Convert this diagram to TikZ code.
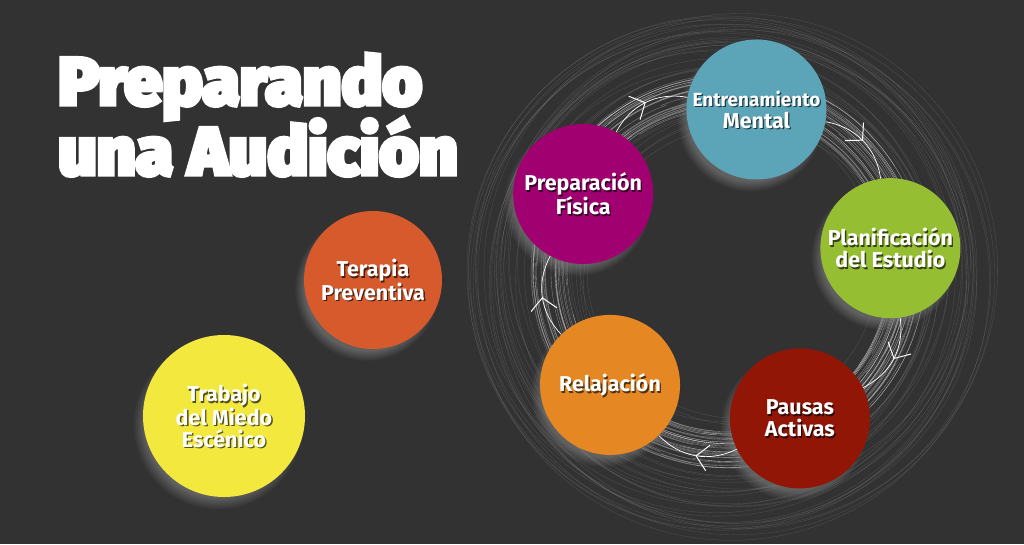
\documentclass[tikz,border=0pt]{standalone}
\usepackage{fontspec}
\setmainfont{Fira Sans}
\newfontfamily\titlefont{Fira Sans Black}[FakeBold=5]
\usetikzlibrary{calc,shadows,arrows.meta,decorations.markings}

\definecolor{bg}{RGB}{50,50,50}
\definecolor{cMental}{RGB}{92,165,184}
\definecolor{cPrep}{RGB}{160,0,112}
\definecolor{cPlan}{RGB}{150,190,50}
\definecolor{cPausas}{RGB}{145,22,6}
\definecolor{cRelaj}{RGB}{229,136,36}
\definecolor{cTerapia}{RGB}{214,90,44}
\definecolor{cTrabajo}{RGB}{242,232,62}

% text with a small dark shadow behind it
\newcommand\bubbletext[2]{%
  \node[txtshade] at (#1) {#2};
  \node[txt] at (#1) {#2};}

\begin{document}
\begin{tikzpicture}
  [x=1pt,y=1pt,
  bubble/.style={circle,minimum size=140pt,inner sep=0pt,
    circular drop shadow={shadow xshift=-6pt,shadow yshift=-8pt,shadow scale=1.05,opacity=.6}},
  txt/.style={align=center,text=white,font=\bfseries\fontsize{21.5}{22}\selectfont},
  txtshade/.style={txt,text=black,opacity=.65,xshift=1.3pt,yshift=-1.5pt},
  ring/.style={gray!80,line width=.3pt,opacity=.3},
  flow/.style={white,line width=.35pt,opacity=.4},
  cycle arrow/.style={white,line width=.7pt,postaction={decorate},
    decoration={markings,mark=at position .5 with {\arrow{Straight Barb[length=12pt,width=26pt,line width=1pt]}}}},
  ]
  \useasboundingbox (0,0) rectangle (1024,544);
  \fill[bg] (0,0) rectangle (1024,544);

  \node[anchor=base west,inner sep=0pt,text=white,font=\titlefont\fontsize{68}{68}\selectfont] (title) at (58,439) {Preparando};
  \node[anchor=base west,inner sep=0pt,text=white,font=\titlefont\fontsize{68}{68}\selectfont] (title2) at (58,369) {una Audición};

  % swirl of thin rings
  \coordinate (C) at (728,273);
  \pgfmathsetseed{12}
  \foreach \k in {1,...,40}{
    \pgfmathsetmacro\dx{rand*14}
    \pgfmathsetmacro\dy{rand*14}
    \pgfmathsetmacro\rr{150+rnd*110}
    \draw[ring] ($(C)+(\dx,\dy)$) circle[radius=\rr];
  }
  \foreach \k in {1,...,100}{
    \pgfmathsetmacro\s{rnd*360}
    \pgfmathsetmacro\len{40+rnd*110}
    \pgfmathsetmacro\rr{158+rnd*40}
    \draw[flow] ($(C)+(\s:\rr)$) arc[start angle=\s,end angle=\s-\len,radius=\rr];
  }

  % the cycle
  \node[bubble,fill=cMental] (mental) at ($(C)+(80:164)$) {};
  \node[bubble,fill=cPlan] (plan) at ($(C)+(8:164)$) {};
  \node[bubble,fill=cPausas] (pausas) at ($(C)+(-64:164)$) {};
  \node[bubble,fill=cRelaj] (relaj) at ($(C)+(-136:164)$) {};
  \node[bubble,fill=cPrep] (prep) at ($(C)+(152:164)$) {};

  \foreach \a/\b in {prep/mental,mental/plan,plan/pausas,pausas/relaj,relaj/prep}
    \draw[cycle arrow] (\a) to[bend left=36] (\b);

  % the two on the left
  \node[bubble,fill=cTerapia,minimum size=138pt] (terapia) at (373,264) {};
  \node[bubble,fill=cTrabajo,minimum size=162pt] (trabajo) at (224,128) {};

  \bubbletext{mental}{{\fontsize{19}{22}\selectfont Entrenamiento}\\Mental}
  \bubbletext{plan}{Planificación\\del Estudio}
  \bubbletext{pausas}{Pausas\\Activas}
  \bubbletext{relaj}{Relajación}
  \bubbletext{prep}{Preparación\\Física}
  \bubbletext{terapia}{Terapia\\Preventiva}
  \bubbletext{trabajo}{Trabajo\\del Miedo\\Escénico}
\end{tikzpicture}
\end{document}
